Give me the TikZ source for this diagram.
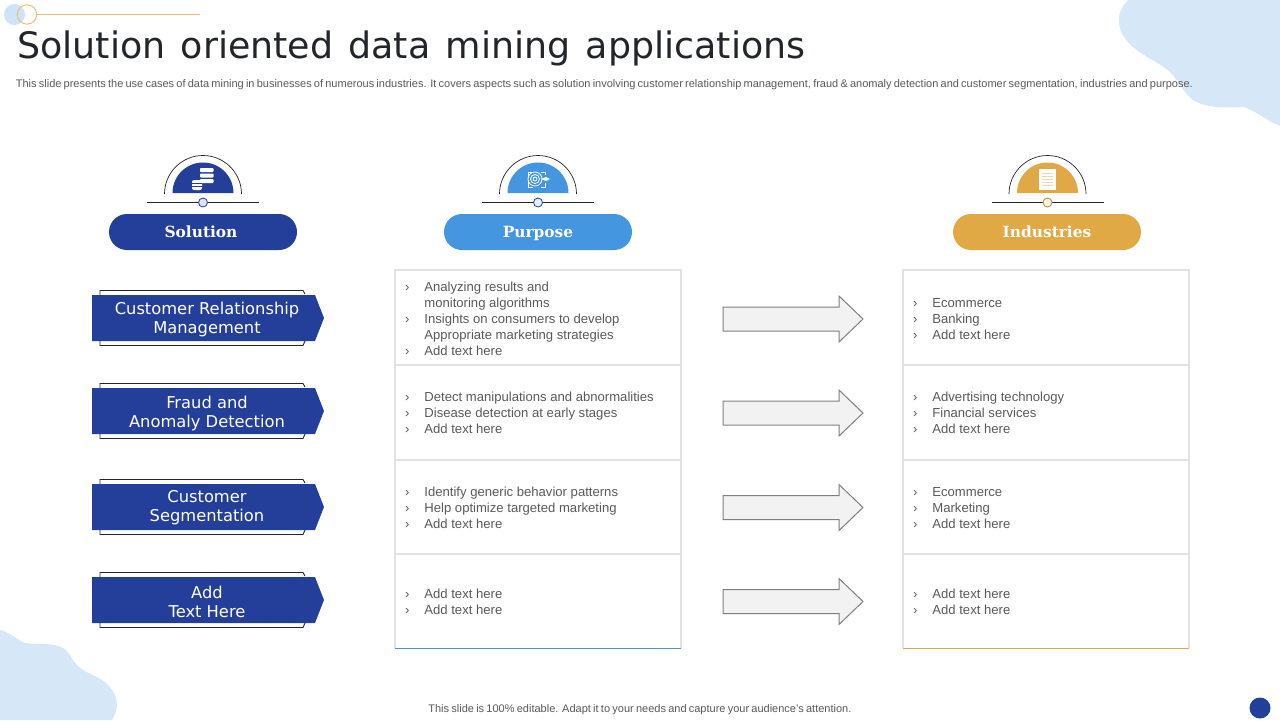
\documentclass[tikz,border=0pt]{standalone}
\usepackage{fontspec}
\setmainfont{Liberation Sans}
\newfontfamily\verd{DejaVu Sans}
\newfontfamily\serifb{DejaVu Serif}[BoldFont={DejaVu Serif Bold}]
\definecolor{cblue}{HTML}{233F99}
\definecolor{cbluedk}{HTML}{2B3F8C}
\definecolor{csky}{HTML}{4596E0}
\definecolor{cgold}{HTML}{E0A945}
\definecolor{cblob}{HTML}{D6E7F8}
\definecolor{cink}{HTML}{222529}
\definecolor{cbody}{HTML}{595959}
\definecolor{cgrid}{HTML}{E2E2E2}
\definecolor{carrow}{HTML}{F2F2F2}
\definecolor{carrowl}{HTML}{7F7F7F}
\newcommand{\bl}{\llap{\makebox[9.7pt][l]{›}}}
\tikzset{
  x=0.5pt,y=-0.5pt,
  pill/.style={rounded corners=9pt,minimum width=94pt,minimum height=18pt,inner sep=0pt,text=white,text height=6.4pt,text depth=1.2pt,font=\serifb\bfseries\fontsize{7.7pt}{10pt}\selectfont},
  boxlabel/.style={text=white,align=center,inner sep=0pt,font=\verd\fontsize{8.15pt}{9.5pt}\selectfont},
  celltext/.style={anchor=west,align=left,inner sep=0pt,text=cbody,font=\fontsize{6.55pt}{8pt}\selectfont},
  gridline/.style={draw=cgrid,line width=0.55pt},
  thin rule/.style={draw=cink,line width=0.35pt},
  bigarrow/.style={draw=carrowl,fill=carrow,line width=0.5pt},
  wicon/.style={fill=white,draw=none},
}
\newcommand{\headicon}[3]{% centre x, colour, outline
  \fill[#2] (#1-30.5,193) arc (180:360:30.5) -- cycle;
  \draw[thin rule] (#1-38.5,194) arc (180:360:38.5);
  \draw[thin rule] (#1-56,202.5) -- (#1+56,202.5);
  \draw[#3,fill=white!85!#2,line width=0.4pt] (#1,202.5) circle (4.5);
}
\newcommand{\sidebox}[1]{% top of blue
  \draw[draw=cink,line width=0.45pt] (303,#1-4.5) -- (100,#1-4.5) -- (100,#1+50.5) -- (303,#1+50.5) -- (305,#1+46) (303,#1-4.5) -- (305,#1-1);
  \fill[cblue] (92,#1) -- (315,#1) -- (324,#1+23) -- (315,#1+46) -- (92,#1+46) -- cycle;
  \draw[cbluedk,line width=0.4pt] (100,#1) -- (100,#1+46) (303,#1) -- (305,#1+23) -- (303,#1+46);
}
\newcommand{\blockarrow}[1]{% centre y
  \draw[bigarrow] (723,#1-12) -- (839,#1-12) -- (839,#1-23) -- (863,#1) -- (839,#1+23) -- (839,#1+12) -- (723,#1+12) -- cycle;
}
\begin{document}
\begin{tikzpicture}
\useasboundingbox (0,0) rectangle (1280,720);
% background blobs
\fill[cblob] (1128,0) .. controls (1120,8) and (1118,17) .. (1119,23)
  .. controls (1120,36) and (1130,45) .. (1138,51)
  .. controls (1148,58) and (1158,63) .. (1165,68)
  .. controls (1178,77) and (1182,92) .. (1193,100)
  .. controls (1205,108) and (1225,108) .. (1243,107)
  .. controls (1255,110) and (1265,120) .. (1280,126) -- (1280,0) -- cycle;
\fill[cblob] (0,630) .. controls (10,632) and (17,640) .. (25,643)
  .. controls (35,645) and (52,642) .. (63,648)
  .. controls (72,654) and (72,662) .. (78,666)
  .. controls (86,674) and (100,676) .. (108,685)
  .. controls (118,695) and (120,708) .. (112,720) -- (0,720) -- cycle;
\fill[cblue] (1260,708) circle (10.5);
% top-left ornament
\fill[cblob!80!csky!70] (14.5,14.5) circle (10.5);
\draw[cgold!75!white,line width=0.5pt] (27,14.5) circle (9.7);
\draw[cgold!75!white,line width=0.5pt] (36.7,14.5) -- (200,14.5);
% title
\node[anchor=west,inner sep=0pt,text=cink,font=\verd\fontsize{18.2pt}{22pt}\selectfont] (title) at (17,48.5) {\makebox[394pt][s]{Solution oriented data mining applications}};
\node[anchor=west,inner sep=0pt,text=cbody,font=\fontsize{5.5pt}{6pt}\selectfont] (subtitle) at (15.5,85) {\makebox[588.5pt][s]{This slide presents the use cases of data mining in businesses of numerous industries. It covers aspects such as solution involving customer relationship management, fraud \& anomaly detection and customer segmentation, industries and purpose.}};
% header icons
\headicon{203}{cblue}{cblue}
\headicon{538}{csky}{cblue}
\headicon{1047.5}{cgold}{cgold!80!black}
% solution icon
\foreach \yy in {169,174.5,180}{\fill[wicon,rounded corners=0.4pt] (200,\yy-1) rectangle (213.5,\yy+3);}
\fill[wicon,rounded corners=1pt] (192,180) rectangle (202,190);
\draw[cblue,line width=0.3pt] (192,183.5) -- (202,183.5) (192,186.5) -- (202,186.5);
% purpose icon
\foreach \rr in {2,4.5,7}{\draw[white,line width=0.4pt] (535,179) circle (\rr);}
\draw[white,line width=0.4pt] (533,172) -- (528,172) -- (528,177) (528,182) -- (528,187) -- (533,187) (541,172) -- (545,172) -- (545,175) (545,183) -- (545,187) -- (541,187);
\fill[white] (541,179) -- (546,177) -- (550,179) -- (546,181) -- cycle;
% industries icon
\fill[white] (1039,169) -- (1056,169) -- (1056,190) -- (1039,190) -- cycle;
\foreach \yy in {173,176,179,182,185}{\draw[cgold!45!white,line width=0.3pt] (1042,\yy) -- (1053,\yy);}
% headers
\node[pill,fill=cblue] (solution) at (203,232) {\hspace*{-2pt}Solution};
\node[pill,fill=csky] (purpose) at (538,232) {Purpose};
\node[pill,fill=cgold] (industries) at (1047,232) {Industries};
% left boxes
\sidebox{295}
\sidebox{388}
\sidebox{484}
\sidebox{577}
\node[boxlabel] (s1) at (207,319) {Customer Relationship\\Management};
\node[boxlabel] (s2) at (207,413) {Fraud and\\Anomaly Detection};
\node[boxlabel] (s3) at (207,508) {Customer\\Segmentation};
\node[boxlabel] (s4) at (207,602) {Add\\Text Here};
% tables
\foreach \xa/\xb/\cc in {395/681/csky,903/1189/cgold}{
  \draw[gridline] (\xa,648) -- (\xa,270) -- (\xb,270) -- (\xb,648);
  \foreach \yy in {365,460,554}{\draw[gridline] (\xa,\yy) -- (\xb,\yy);}
  \draw[draw=\cc,line width=0.6pt] (\xa,648.5) -- (\xb,648.5);
}
% purpose text
\node[celltext] (p1) at (424,319) {\bl Analyzing results and\\monitoring algorithms\\\bl Insights on consumers to develop\\Appropriate marketing strategies\\\bl Add text here};
\node[celltext] (p2) at (424,413) {\bl Detect manipulations and abnormalities\\\bl Disease detection at early stages\\\bl Add text here};
\node[celltext] (p3) at (424,508) {\bl Identify generic behavior patterns\\\bl Help optimize targeted marketing\\\bl Add text here};
\node[celltext] (p4) at (424,602) {\bl Add text here\\\bl Add text here};
% arrows
\blockarrow{319}
\blockarrow{413}
\blockarrow{507.5}
\blockarrow{601.5}
% industries text
\node[celltext] (i1) at (932,319) {\bl Ecommerce\\\bl Banking\\\bl Add text here};
\node[celltext] (i2) at (932,413) {\bl Advertising technology\\\bl Financial services\\\bl Add text here};
\node[celltext] (i3) at (932,508) {\bl Ecommerce\\\bl Marketing\\\bl Add text here};
\node[celltext] (i4) at (932,602) {\bl Add text here\\\bl Add text here};
% footer
\node[anchor=west,inner sep=0pt,text=cbody,font=\fontsize{5.5pt}{6pt}\selectfont] (footer) at (428,709.5) {\makebox[211.5pt][s]{This slide is 100\% editable. Adapt it to your needs and capture your audience's attention.}};
\end{tikzpicture}
\end{document}
